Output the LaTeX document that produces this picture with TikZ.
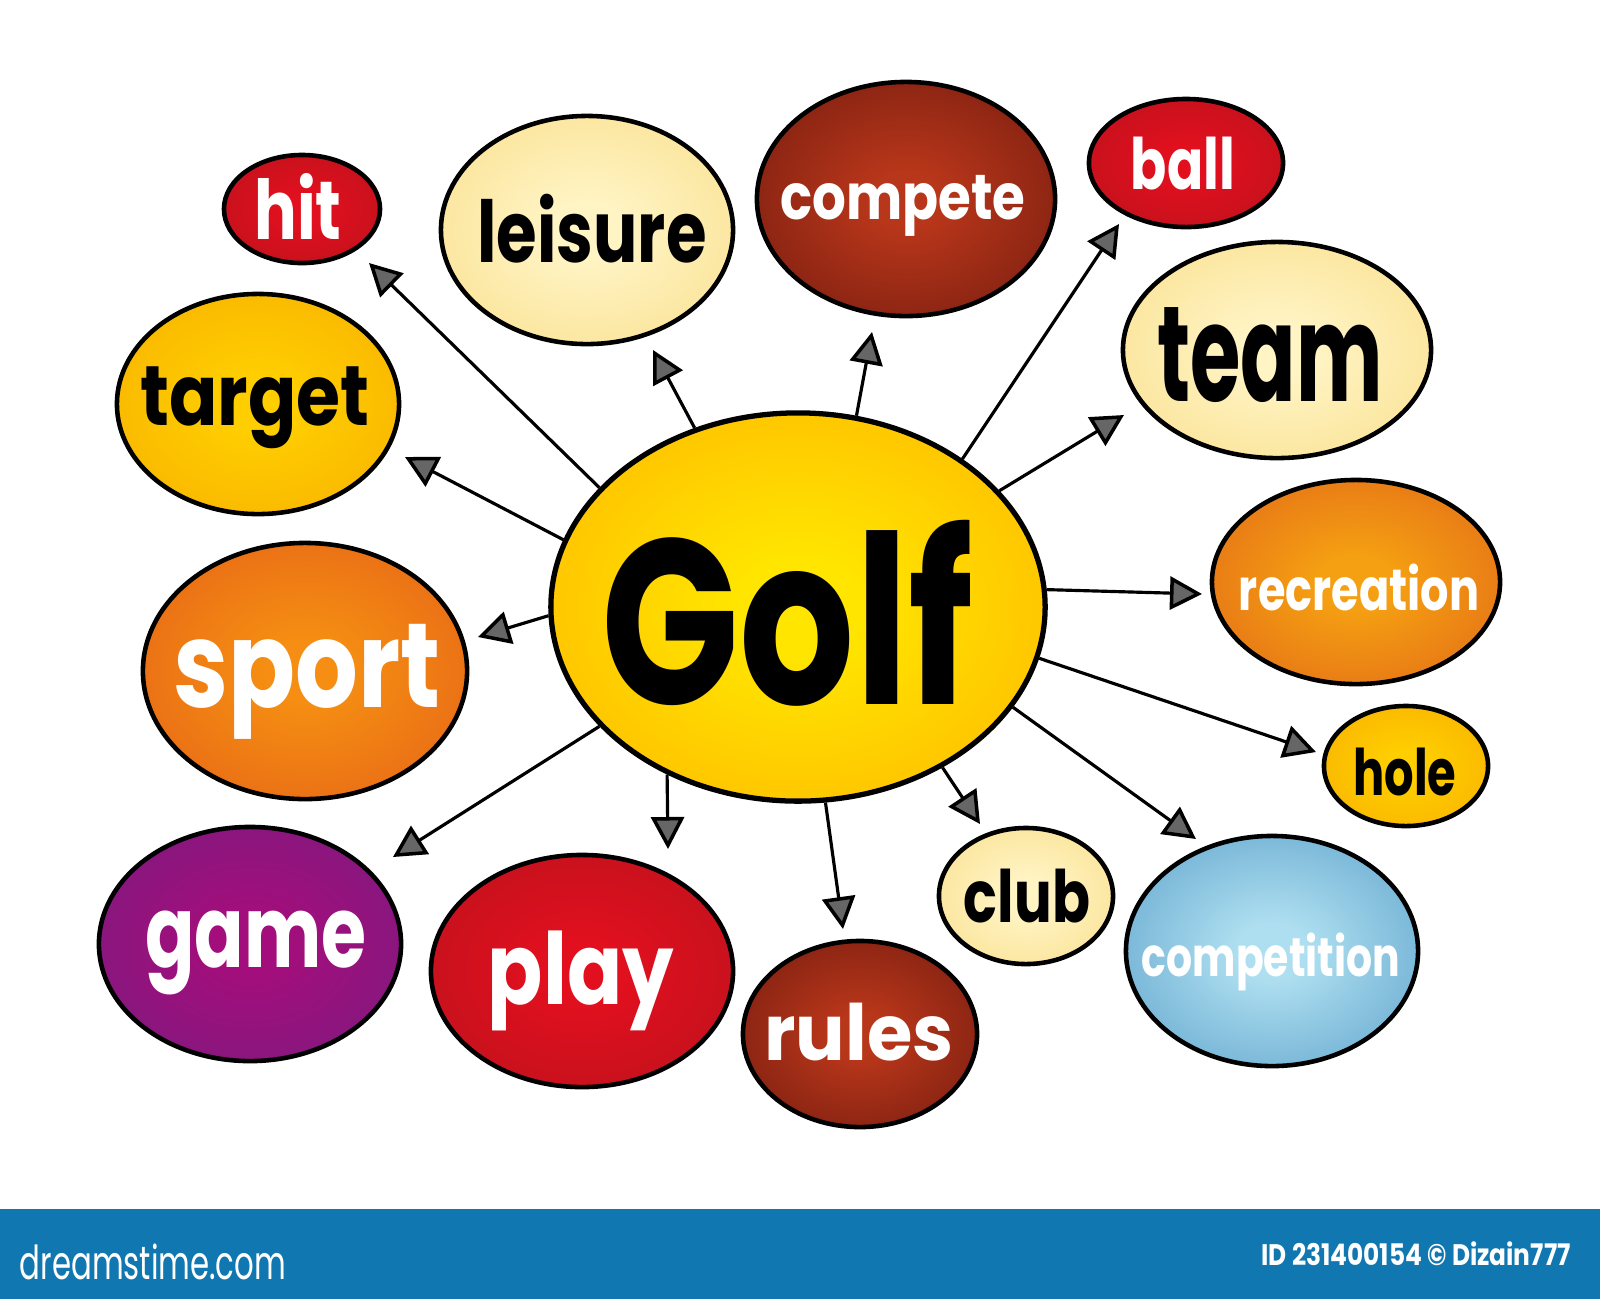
\documentclass[tikz,border=0pt]{standalone}
\usepackage{fontspec}
\setmainfont{Poppins}
\usepackage{graphicx}
\usetikzlibrary{shapes.geometric,arrows.meta}
\definecolor{bgedge}{HTML}{E4E4E4}
\definecolor{barblue}{HTML}{1177B0}
\newcommand\mkshade[3]{\pgfdeclareradialshading{#1}{\pgfpoint{0bp}{0bp}}{color(0bp)=(#2); color(6bp)=(#2); color(50bp)=(#3)}}
\mkshade{sh-golf}{yellow!80!orange}{orange!75!yellow}
\definecolor{cYin}{HTML}{FFCE00}\definecolor{cYout}{HTML}{F4A200}
\definecolor{cRin}{HTML}{E2101E}\definecolor{cRout}{HTML}{A8121C}
\definecolor{cBin}{HTML}{B8361A}\definecolor{cBout}{HTML}{55100A}
\definecolor{cLin}{HTML}{FFF4C4}\definecolor{cLout}{HTML}{F7D674}
\definecolor{cOin}{HTML}{F5A012}\definecolor{cOout}{HTML}{D9501A}
\definecolor{cSin}{HTML}{F58E12}\definecolor{cSout}{HTML}{DE4E1A}
\definecolor{cPin}{HTML}{A30E7C}\definecolor{cPout}{HTML}{6A2080}
\definecolor{cCin}{HTML}{AEDFF0}\definecolor{cCout}{HTML}{3A86BA}
\mkshade{sh-yel}{cYin}{cYout}
\mkshade{sh-red}{cRin}{cRout}
\mkshade{sh-brn}{cBin}{cBout}
\mkshade{sh-lgt}{cLin}{cLout}
\mkshade{sh-org}{cOin}{cOout}
\mkshade{sh-spt}{cSin}{cSout}
\mkshade{sh-pur}{cPin}{cPout}
\mkshade{sh-blu}{cCin}{cCout}
\pgfdeclareradialshading{vign}{\pgfpoint{0bp}{0bp}}{color(0bp)=(white); color(35bp)=(white); color(72bp)=(bgedge); color(100bp)=(bgedge)}
\newcommand\wordbox[3]{\resizebox*{#1cm}{#2cm}{#3}}
\tikzset{
  bub/.style={ellipse, draw=black, line width=1.3pt, inner sep=0pt},
  wt/.style={text=white, inner sep=0pt, font=\bfseries},
  bt/.style={text=black, inner sep=0pt, font=\bfseries},
  arr/.style={line width=0.9pt, -{Triangle[length=3.2mm,width=3.3mm,fill=black!60,line width=1pt]}},
}
\begin{document}
\begin{tikzpicture}[x=0.01cm,y=-0.01cm]
\useasboundingbox (0,0) rectangle (1600,1299);
\shade[shading=vign] (0,0) rectangle (1600,1209);
\fill[barblue] (0,1209) rectangle (1600,1299);
\node[text=white, inner sep=0pt] (site) at (153,1262) {\wordbox{2.66}{0.36}{dreamstime.com}};
\node[text=white, inner sep=0pt, font=\bfseries] (imgid) at (1416,1254) {\wordbox{3.09}{0.24}{ID 231400154 © Dizain777}};
% bubbles
\node[bub, shade, shading=sh-golf, line width=1.5pt, minimum width=4.94cm, minimum height=3.88cm] (golf) at (798,607) {};
\node[bub, shade, shading=sh-red, minimum width=1.56cm, minimum height=1.08cm] (hit) at (302,209) {};
\node[bub, shade, shading=sh-lgt, minimum width=2.92cm, minimum height=2.28cm] (leisure) at (587,230) {};
\node[bub, shade, shading=sh-brn, minimum width=2.98cm, minimum height=2.34cm] (compete) at (906,199) {};
\node[bub, shade, shading=sh-red, minimum width=1.94cm, minimum height=1.28cm] (ball) at (1186,163) {};
\node[bub, shade, shading=sh-lgt, minimum width=3.08cm, minimum height=2.16cm] (team) at (1277,350) {};
\node[bub, shade, shading=sh-yel, minimum width=2.82cm, minimum height=2.20cm] (target) at (258,404) {};
\node[bub, shade, shading=sh-spt, minimum width=3.24cm, minimum height=2.56cm] (sport) at (305,671) {};
\node[bub, shade, shading=sh-org, minimum width=2.88cm, minimum height=2.04cm] (recreation) at (1356,582) {};
\node[bub, shade, shading=sh-yel, minimum width=1.64cm, minimum height=1.20cm] (hole) at (1406,766) {};
\node[bub, shade, shading=sh-pur, minimum width=3.02cm, minimum height=2.34cm] (game) at (250,944) {};
\node[bub, shade, shading=sh-red, minimum width=3.02cm, minimum height=2.32cm] (play) at (582,971) {};
\node[bub, shade, shading=sh-brn, minimum width=2.34cm, minimum height=1.86cm] (rules) at (860,1034) {};
\node[bub, shade, shading=sh-lgt, minimum width=1.74cm, minimum height=1.36cm] (club) at (1026,896) {};
\node[bub, shade, shading=sh-blu, minimum width=2.92cm, minimum height=2.30cm] (competition) at (1272,951) {};
% labels
\node[bt] (golf-t) at (788,613) {\wordbox{3.72}{1.86}{Golf}};
\node[wt] (hit-t) at (298,206) {\wordbox{0.87}{0.66}{hit}};
\node[bt] (leisure-t) at (592,229) {\wordbox{2.29}{0.69}{leisure}};
\node[wt] (compete-t) at (903,206) {\wordbox{2.45}{0.61}{compete}};
\node[wt] (ball-t) at (1183,164) {\wordbox{1.04}{0.53}{ball}};
\node[bt] (team-t) at (1270,355) {\wordbox{2.25}{0.95}{team}};
\node[bt] (target-t) at (255,408) {\wordbox{2.29}{0.82}{target}};
\node[wt] (sport-t) at (307,682) {\wordbox{2.67}{1.15}{sport}};
\node[wt] (recreation-t) at (1359,587) {\wordbox{2.40}{0.47}{recreation}};
\node[bt] (hole-t) at (1405,772) {\wordbox{1.03}{0.48}{hole}};
\node[wt] (game-t) at (256,953) {\wordbox{2.21}{0.84}{game}};
\node[wt] (play-t) at (581,981) {\wordbox{1.86}{1.00}{play}};
\node[wt] (rules-t) at (859,1032) {\wordbox{1.89}{0.58}{rules}};
\node[bt] (club-t) at (1027,896) {\wordbox{1.26}{0.54}{club}};
\node[wt] (competition-t) at (1271,962) {\wordbox{2.58}{0.58}{competition}};
% arrow tips
\coordinate (tHit) at (369,263);
\coordinate (tTarget) at (405,457);
\coordinate (tLeisure) at (653,350);
\coordinate (tCompete) at (872,332);
\coordinate (tBall) at (1119,224);
\coordinate (tTeam) at (1124,415);
\coordinate (tRec) at (1202,594);
\coordinate (tHole) at (1316,752);
\coordinate (tComp) at (1196,839);
\coordinate (tClub) at (980,824);
\coordinate (tRules) at (843,929);
\coordinate (tPlay) at (668,849);
\coordinate (tGame) at (393,857);
\coordinate (tSport) at (478,637);
\draw[arr] (golf.149) -- (tHit);
\draw[arr] (golf.164) -- (tTarget);
\draw[arr] (golf.120) -- (tLeisure);
\draw[arr] (golf.73) -- (tCompete);
\draw[arr] (golf.42) -- (tBall);
\draw[arr] (golf.30) -- (tTeam);
\draw[arr] (golf.4) -- (tRec);
\draw[arr] (golf.-12) -- (tHole);
\draw[arr] (golf.-25) -- (tComp);
\draw[arr] (golf.-48) -- (tClub);
\draw[arr] (golf.-82) -- (tRules);
\draw[arr] (golf.-128) -- (tPlay);
\draw[arr] (golf.211) -- (tGame);
\draw[arr] (golf.182) -- (tSport);
\end{tikzpicture}
\end{document}
